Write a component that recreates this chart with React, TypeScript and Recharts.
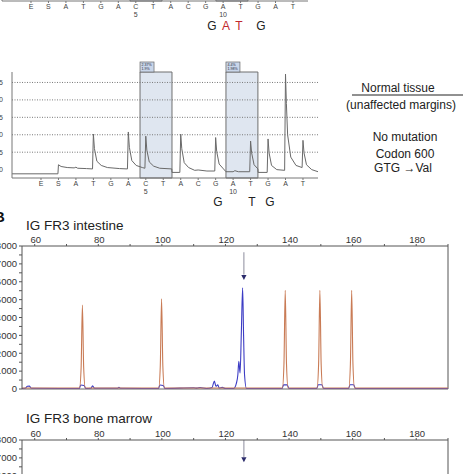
import {
  LineChart,
  Line,
  XAxis,
  YAxis,
  ReferenceArea,
  ReferenceLine,
  ReferenceDot,
} from "recharts";

const FONT = "'Liberation Sans', Arial, sans-serif";

// pyrogram dispensation order (E = enzyme, S = substrate)
const pyroLetters = ["E", "S", "A", "T", "G", "A", "C", "T", "A", "C", "G", "A", "T", "G", "A", "T"];
const pyroTicks = [1, 2, 3, 4, 5, 6, 7, 8, 9, 10, 11, 12, 13, 14, 15, 16];
const pyroYTicks = [0, 25, 50, 75, 100, 125];
const pyroGrid = [25, 50, 75, 100, 125];

// mutated sample (top, mostly cropped away)
const topTrace = [
  { x: -0.66, y: -6 }, { x: 1.97, y: -6 }, { x: 2, y: 6 }, { x: 2.5, y: 3 }, { x: 3.97, y: 1 },
  { x: 4, y: 50 }, { x: 4.1, y: 20 }, { x: 4.6, y: 4 }, { x: 5.97, y: 1 }, { x: 6, y: 52 },
  { x: 6.1, y: 20 }, { x: 6.97, y: 2 }, { x: 7, y: 46 }, { x: 7.1, y: 18 }, { x: 8.5, y: -4 },
  { x: 8.97, y: -4 }, { x: 9, y: 50 }, { x: 9.1, y: 18 }, { x: 10.97, y: -2 }, { x: 11, y: 44 },
  { x: 11.1, y: 16 }, { x: 11.97, y: -3 }, { x: 12, y: 22 }, { x: 12.1, y: 8 }, { x: 12.97, y: -3 },
  { x: 13, y: 24 }, { x: 13.1, y: 8 }, { x: 13.97, y: -4 }, { x: 14, y: 44 }, { x: 14.1, y: 16 },
  { x: 14.97, y: -1 }, { x: 15, y: 132 }, { x: 15.1, y: 50 }, { x: 15.97, y: 3 }, { x: 16, y: 40 },
  { x: 16.1, y: 14 }, { x: 16.86, y: -3 },
];

// normal tissue (middle)
const midTrace = [
  { x: -0.66, y: -6 }, { x: 1.97, y: -6 }, { x: 2.0, y: 7 }, { x: 2.15, y: 4.5 }, { x: 2.5, y: 3 },
  { x: 2.9, y: 2.5 }, { x: 3.0, y: 3.5 }, { x: 3.1, y: 2 }, { x: 3.6, y: 1.5 }, { x: 3.95, y: 1 },
  { x: 4.0, y: 51 }, { x: 4.06, y: 30 }, { x: 4.2, y: 12 }, { x: 4.45, y: 6 }, { x: 4.8, y: 3 },
  { x: 5.5, y: 1.5 }, { x: 5.95, y: 1 }, { x: 6.0, y: 54 }, { x: 6.06, y: 32 }, { x: 6.2, y: 13 },
  { x: 6.45, y: 6 }, { x: 6.8, y: 3 }, { x: 6.95, y: 2 }, { x: 7.0, y: 48 }, { x: 7.06, y: 28 },
  { x: 7.2, y: 11 }, { x: 7.45, y: 5 }, { x: 7.8, y: 2 }, { x: 8.49, y: 1 }, { x: 8.5, y: -4 },
  { x: 8.95, y: -4 }, { x: 9.0, y: 51 }, { x: 9.06, y: 30 }, { x: 9.2, y: 10 }, { x: 9.45, y: 3 },
  { x: 9.8, y: -1 }, { x: 10, y: -0.5 }, { x: 10.5, y: -2 }, { x: 10.95, y: -2 }, { x: 11.0, y: 46 },
  { x: 11.06, y: 26 }, { x: 11.2, y: 8 }, { x: 11.45, y: 1 }, { x: 11.59, y: -3 }, { x: 12, y: -3 },
  { x: 12.1, y: -1.5 }, { x: 12.3, y: -3 }, { x: 12.95, y: -3 }, { x: 13.0, y: 41 }, { x: 13.06, y: 24 },
  { x: 13.2, y: 7 }, { x: 13.42, y: 1 }, { x: 13.43, y: -4 }, { x: 13.95, y: -4 }, { x: 14.0, y: 44 },
  { x: 14.06, y: 24 }, { x: 14.2, y: 6 }, { x: 14.5, y: 0 }, { x: 14.95, y: -1 }, { x: 15.0, y: 137 },
  { x: 15.05, y: 95 }, { x: 15.12, y: 50 }, { x: 15.3, y: 18 }, { x: 15.6, y: 6 }, { x: 15.95, y: 3 },
  { x: 16.0, y: 42 }, { x: 16.06, y: 24 }, { x: 16.2, y: 7 }, { x: 16.5, y: 0 }, { x: 16.86, y: -3 },
];

const topTags = [["1.88%", "1.9%"], ["38.1%", "1.96%"]];
const midTags = [["2.37%", "1.9%"], ["4.4%", "1.98%"]];

// fragment analysis, size in bp vs fluorescence
const igTicks = [60, 70, 80, 90, 100, 110, 120, 130, 140, 150, 160, 170, 180, 190];
const igYTicks = [0, 500, 1000, 1500, 2000, 2500, 3000, 3500, 4000, 4500, 5000, 5500, 6000, 6500, 7000, 7500, 8000];

const intestineSizeStd = [
  { x: 56, y: 60 }, { x: 74.1, y: 60 }, { x: 74.6, y: 1200 }, { x: 75, y: 4700 }, { x: 75.4, y: 1200 },
  { x: 75.9, y: 60 }, { x: 99, y: 60 }, { x: 99.5, y: 1300 }, { x: 99.9, y: 5050 }, { x: 100.3, y: 1300 },
  { x: 100.8, y: 60 }, { x: 137.9, y: 60 }, { x: 138.4, y: 1400 }, { x: 138.8, y: 5520 }, { x: 139.2, y: 1400 },
  { x: 139.7, y: 60 }, { x: 148.8, y: 60 }, { x: 149.3, y: 1400 }, { x: 149.7, y: 5520 }, { x: 150.1, y: 1400 },
  { x: 150.6, y: 60 }, { x: 158.8, y: 60 }, { x: 159.3, y: 1400 }, { x: 159.7, y: 5520 }, { x: 160.1, y: 1400 },
  { x: 160.6, y: 60 }, { x: 190, y: 60 },
];

const intestineSample = [
  { x: 56, y: 30 }, { x: 57, y: 40 }, { x: 57.7, y: 150 }, { x: 58.3, y: 160 }, { x: 59, y: 40 },
  { x: 74, y: 30 }, { x: 74.5, y: 220 }, { x: 75.5, y: 200 }, { x: 76.1, y: 30 }, { x: 77.7, y: 40 },
  { x: 78.2, y: 180 }, { x: 78.8, y: 40 }, { x: 86, y: 40 }, { x: 86.5, y: 90 }, { x: 87, y: 40 },
  { x: 98.9, y: 30 }, { x: 99.4, y: 220 }, { x: 100.4, y: 200 }, { x: 101, y: 30 }, { x: 110, y: 70 },
  { x: 111, y: 50 }, { x: 112, y: 80 }, { x: 114, y: 30 }, { x: 115.8, y: 90 }, { x: 116.5, y: 450 },
  { x: 117, y: 150 }, { x: 117.6, y: 230 }, { x: 118, y: 60 }, { x: 119, y: 90 }, { x: 120, y: 30 },
  { x: 122.6, y: 30 }, { x: 123.4, y: 300 }, { x: 123.9, y: 800 }, { x: 124.2, y: 1550 }, { x: 124.6, y: 900 },
  { x: 125.0, y: 3200 }, { x: 125.4, y: 5660 }, { x: 125.7, y: 3000 }, { x: 126.0, y: 800 }, { x: 126.6, y: 30 },
  { x: 137.8, y: 30 }, { x: 138.3, y: 230 }, { x: 139.4, y: 230 }, { x: 140, y: 30 }, { x: 148.7, y: 30 },
  { x: 149.2, y: 240 }, { x: 150.3, y: 240 }, { x: 150.9, y: 30 }, { x: 158.7, y: 30 }, { x: 159.2, y: 240 },
  { x: 160.3, y: 240 }, { x: 160.9, y: 30 }, { x: 190, y: 30 },
];

const marrowSizeStd = [
  { x: 56, y: 60 }, { x: 74.1, y: 60 }, { x: 74.6, y: 1100 }, { x: 75, y: 4300 }, { x: 75.4, y: 1100 },
  { x: 75.9, y: 60 }, { x: 99, y: 60 }, { x: 99.5, y: 1200 }, { x: 99.9, y: 4700 }, { x: 100.3, y: 1200 },
  { x: 100.8, y: 60 }, { x: 137.9, y: 60 }, { x: 138.4, y: 1300 }, { x: 138.8, y: 5100 }, { x: 139.2, y: 1300 },
  { x: 139.7, y: 60 }, { x: 148.8, y: 60 }, { x: 149.3, y: 1300 }, { x: 149.7, y: 5100 }, { x: 150.1, y: 1300 },
  { x: 150.6, y: 60 }, { x: 158.8, y: 60 }, { x: 159.3, y: 1300 }, { x: 159.7, y: 5100 }, { x: 160.1, y: 1300 },
  { x: 160.6, y: 60 }, { x: 190, y: 60 },
];

const marrowSample = [
  { x: 56, y: 30 }, { x: 122.8, y: 30 }, { x: 123.6, y: 250 }, { x: 124.2, y: 900 }, { x: 124.6, y: 600 },
  { x: 125.0, y: 2200 }, { x: 125.4, y: 3900 }, { x: 125.7, y: 2100 }, { x: 126.0, y: 600 }, { x: 126.6, y: 30 },
  { x: 190, y: 30 },
];

const LetterTick = (props: any) => {
  const { x, y, payload } = props;
  const i = payload.value as number;
  const num = (i - 2) % 5 === 0 && i > 2 ? String(i - 2) : null;
  return (
    <g>
      <text x={x} y={y} dy={6} textAnchor="middle" fontSize={7} fill="#444" fontFamily={FONT}>
        {pyroLetters[i - 1]}
      </text>
      {num && (
        <text x={x} y={y} dy={14} textAnchor="middle" fontSize={7} fill="#444" fontFamily={FONT}>
          {num}
        </text>
      )}
    </g>
  );
};

const TagBox = (lines: string[]) => (p: any) => {
  const vb = p.viewBox;
  if (!vb) return null;
  return (
    <g>
      <rect x={vb.x} y={vb.y - 10} width={14} height={10} fill="#c9d6ea" stroke="#666" strokeWidth={0.7} />
      <text x={vb.x + 1.5} y={vb.y - 6} fontSize={3.6} fill="#223" fontFamily={FONT}>{lines[0]}</text>
      <text x={vb.x + 1.5} y={vb.y - 1.8} fontSize={3.6} fill="#223" fontFamily={FONT}>{lines[1]}</text>
    </g>
  );
};

const Pyrogram = ({ trace, tags, left, top }: any) => (
  <div style={{ position: "absolute", left, top }}>
    <LineChart width={330} height={200} margin={{ top: 72, right: 12, bottom: 0, left: 0 }}>
      {pyroGrid.map((v) => (
        <ReferenceLine key={v} y={v} stroke="#7a7a7a" strokeDasharray="1 1.5" />
      ))}
      <ReferenceArea x1={6.67} x2={8.5} fill="#dfe6f0" fillOpacity={1} stroke="#6f6f6f" strokeWidth={1} label={{ content: TagBox(tags[0]) }} />
      <ReferenceArea x1={11.59} x2={13.42} fill="#dfe6f0" fillOpacity={1} stroke="#6f6f6f" strokeWidth={1} label={{ content: TagBox(tags[1]) }} />
      <XAxis type="number" dataKey="x" domain={[-0.66, 16.86]} ticks={pyroTicks} height={22} tick={<LetterTick />} tickSize={2} tickMargin={0} stroke="#777" allowDataOverflow interval={0} />
      <YAxis type="number" domain={[-12, 140]} ticks={pyroYTicks} width={12} tickLine={false} tickMargin={3} stroke="#777" tick={{ fontSize: 7, fill: "#444", fontFamily: FONT }} allowDataOverflow interval={0} />
      <Line data={trace} dataKey="y" type="linear" stroke="#6a6a6a" strokeWidth={1} dot={false} isAnimationActive={false} />
    </LineChart>
  </div>
);

const IgXTick = (props: any) => {
  const { x, y, payload } = props;
  if (payload.value % 20 !== 0) return null;
  return (
    <text x={x + 1} y={y} textAnchor="middle" fontSize={9.5} fill="#333" fontFamily={FONT}>
      {payload.value}
    </text>
  );
};

const IgYTick = (props: any) => {
  const { x, y, payload } = props;
  if (payload.value % 1000 !== 0) return null;
  return (
    <text x={x} y={y} dy={3.3} textAnchor="end" fontSize={9.5} fill="#333" fontFamily={FONT}>
      {payload.value}
    </text>
  );
};

const ArrowHead = (p: any) => (
  <path d={`M${p.cx - 2.6},${p.cy - 5} L${p.cx + 2.6},${p.cy - 5} L${p.cx},${p.cy} Z`} fill="#2b2b6b" />
);

const Electropherogram = ({ top, sizeStd, sample, arrowFrom, arrowTo }: any) => (
  <div style={{ position: "absolute", left: 0, top }}>
    <LineChart width={474} height={200} margin={{ top: 32, right: 26, bottom: 11, left: 0 }}>
      <XAxis type="number" dataKey="x" orientation="top" domain={[56, 190]} ticks={igTicks} height={14} tick={<IgXTick />} tickSize={2} tickMargin={1} stroke="#555" allowDataOverflow interval={0} />
      <YAxis type="number" domain={[0, 8000]} ticks={igYTicks} width={22} tick={<IgYTick />} tickSize={3} tickMargin={2} stroke="#555" allowDataOverflow interval={0} />
      <ReferenceLine x={190} stroke="#555" />
      <ReferenceLine y={0} stroke="#666" />
      <Line data={sample} dataKey="y" type="monotone" stroke="#3c3cc4" strokeWidth={1.1} dot={false} isAnimationActive={false} />
      <Line data={sizeStd} dataKey="y" type="monotone" stroke="#c97b55" strokeWidth={1.1} dot={false} isAnimationActive={false} />
      <ReferenceLine segment={[{ x: 125.8, y: arrowFrom }, { x: 125.8, y: arrowTo + 300 }]} stroke="#8c8c9c" strokeWidth={1} />
      <ReferenceDot x={125.8} y={arrowTo} shape={ArrowHead} />
    </LineChart>
  </div>
);

export default function App() {
  return (
    <div style={{ position: "fixed", left: 0, top: 0, width: 474, height: 474, overflow: "hidden", background: "#fff" }}>
      <Pyrogram trace={topTrace} tags={topTags} left={-10} top={-177} />
      <Pyrogram trace={midTrace} tags={midTags} left={0} top={0} />
      <Electropherogram top={200} sizeStd={intestineSizeStd} sample={intestineSample} arrowFrom={7650} arrowTo={6100} />
      <Electropherogram top={394} sizeStd={marrowSizeStd} sample={marrowSample} arrowFrom={8000} arrowTo={6750} />
      <svg width={474} height={474} style={{ position: "absolute", left: 0, top: 0, pointerEvents: "none" }} fontFamily={FONT}>
        <text x={212} y={30} fontSize={12} fill="#222" textAnchor="middle">G</text>
        <text x={226} y={30} fontSize={12} fill="#c0282d" textAnchor="middle">A</text>
        <text x={239} y={30} fontSize={12} fill="#c0282d" textAnchor="middle">T</text>
        <text x={261} y={30} fontSize={12} fill="#222" textAnchor="middle">G</text>

        <text x={218} y={206} fontSize={12} fill="#222" textAnchor="middle">G</text>
        <text x={252} y={206} fontSize={12} fill="#222" textAnchor="middle">T</text>
        <text x={270} y={206} fontSize={12} fill="#222" textAnchor="middle">G</text>

        <text x={398} y={92} fontSize={12} fill="#222" textAnchor="middle">Normal tissue</text>
        <line x1={352} x2={463} y1={95} y2={95} stroke="#222" strokeWidth={1} />
        <text x={401} y={109} fontSize={12} fill="#222" textAnchor="middle">(unaffected margins)</text>
        <text x={405} y={141} fontSize={12} fill="#222" textAnchor="middle">No mutation</text>
        <text x={405} y={158} fontSize={12} fill="#222" textAnchor="middle">Codon 600</text>
        <text x={403} y={172} fontSize={12} fill="#222" textAnchor="middle">GTG →Val</text>

        <text x={-6} y={222} fontSize={15} fontWeight="bold" fill="#111">B</text>
        <text x={26} y={230} fontSize={13.5} fill="#222">IG FR3 intestine</text>
        <text x={26} y={423} fontSize={13.5} fill="#222">IG FR3 bone marrow</text>
      </svg>
    </div>
  );
}
